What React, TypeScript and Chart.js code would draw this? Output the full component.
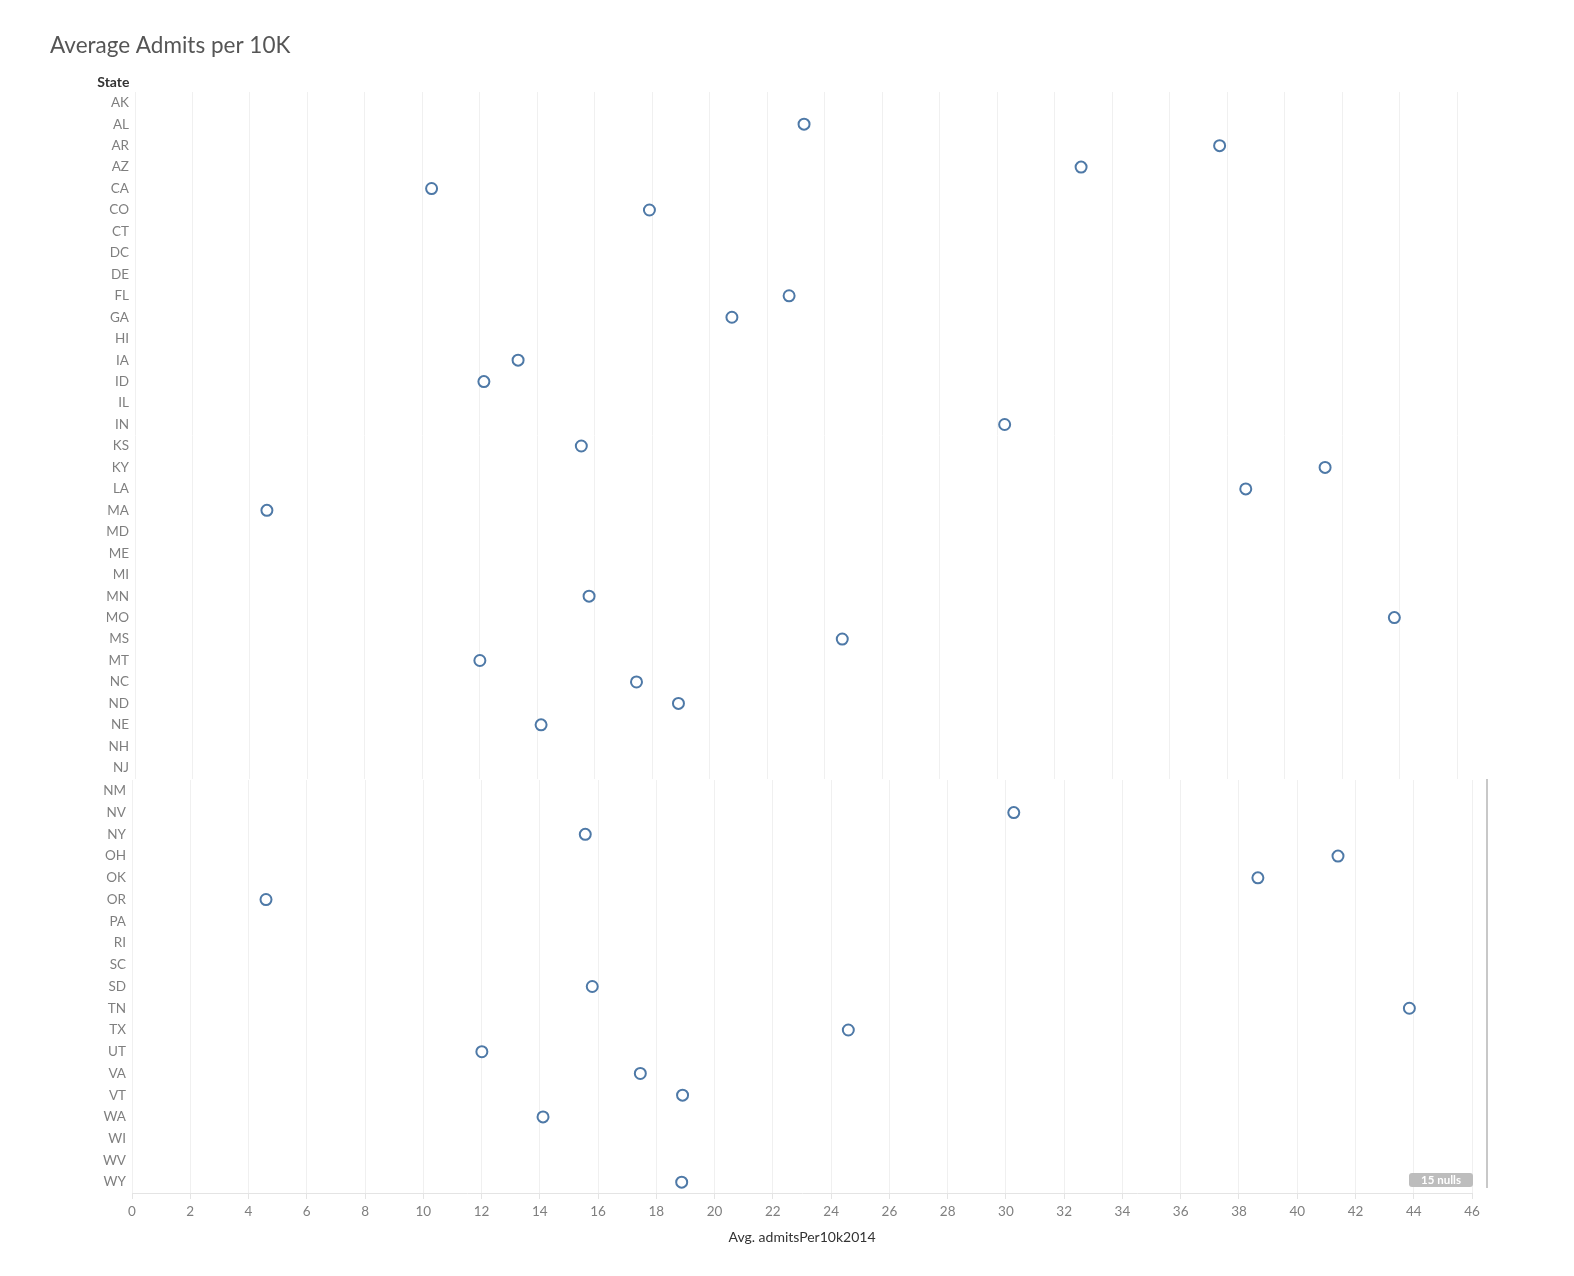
import React, { useEffect, useRef } from "react";
import { Chart, registerables } from "chart.js";

Chart.register(...registerables);

const topStates = ["AK","AL","AR","AZ","CA","CO","CT","DC","DE","FL","GA","HI","IA","ID","IL","IN","KS","KY","LA","MA","MD","ME","MI","MN","MO","MS","MT","NC","ND","NE","NH","NJ"];
const topValues: (number | null)[] = [null,23.28,37.74,32.92,10.32,17.9,null,null,null,22.76,20.77,null,13.33,12.14,null,30.26,15.53,41.41,38.65,4.59,null,null,null,15.8,43.82,24.61,12.0,17.45,18.91,14.13,null,null];

const bottomStates = ["NM","NV","NY","OH","OK","OR","PA","RI","SC","SD","TN","TX","UT","VA","VT","WA","WI","WV","WY"];
const bottomValues: (number | null)[] = [null,30.27,15.56,41.4,38.65,4.6,null,null,null,15.8,43.85,24.59,12.01,17.45,18.9,14.11,null,null,18.87];

const xTickStep = 2;
const xMin = 0;
const xMax = 46;
const chartTitle = "Average Admits per 10K";
const yAxisHeader = "State";
const xAxisTitle = "Avg. admitsPer10k2014";
const nullsBadge = "15 nulls";

const FONT = "Lato, 'Noto Sans', sans-serif";
const POINT = "#4e79a7";
const GRID = "#f0f0f0";
const TICK = "#7f7f7f";

function baseDataset(values: (number | null)[]) {
  return {
    data: values,
    showLine: false,
    pointStyle: "circle" as const,
    pointRadius: 5.5,
    pointHoverRadius: 5.5,
    pointBorderWidth: 2,
    pointBorderColor: POINT,
    pointBackgroundColor: "#ffffff",
    borderColor: POINT,
    backgroundColor: "#ffffff",
  };
}

function fixY(width: number) {
  return (s: any) => {
    s.width = width;
    s.paddingTop = 0;
    s.paddingBottom = 0;
  };
}

export default function App() {
  const topRef = useRef<HTMLCanvasElement>(null);
  const botRef = useRef<HTMLCanvasElement>(null);

  useEffect(() => {
    const headerPlugin = {
      id: "header",
      afterDraw(chart: any) {
        const ctx = chart.ctx;
        ctx.save();
        ctx.fillStyle = "#555555";
        ctx.font = `22.5px ${FONT}`;
        ctx.textAlign = "left";
        ctx.textBaseline = "middle";
        ctx.fillText(chartTitle, 50, 46);
        ctx.fillStyle = "#333333";
        ctx.font = `bold 14px ${FONT}`;
        ctx.textAlign = "right";
        ctx.fillText(yAxisHeader, 129.5, 82);
        ctx.restore();
      },
    };

    const footerPlugin = {
      id: "footer",
      afterDraw(chart: any) {
        const ctx = chart.ctx;
        const a = chart.chartArea;
        ctx.save();
        ctx.strokeStyle = "#c8c8c8";
        ctx.lineWidth = 2;
        ctx.beginPath();
        ctx.moveTo(1487, a.top - 2);
        ctx.lineTo(1487, a.bottom - 5);
        ctx.stroke();
        const bx = 1409, by = a.bottom - 20, bw = 64, bh = 14, r = 3;
        ctx.fillStyle = "#bdbdbd";
        ctx.beginPath();
        ctx.moveTo(bx + r, by);
        ctx.lineTo(bx + bw - r, by);
        ctx.quadraticCurveTo(bx + bw, by, bx + bw, by + r);
        ctx.lineTo(bx + bw, by + bh - r);
        ctx.quadraticCurveTo(bx + bw, by + bh, bx + bw - r, by + bh);
        ctx.lineTo(bx + r, by + bh);
        ctx.quadraticCurveTo(bx, by + bh, bx, by + bh - r);
        ctx.lineTo(bx, by + r);
        ctx.quadraticCurveTo(bx, by, bx + r, by);
        ctx.fill();
        ctx.fillStyle = "#ffffff";
        ctx.font = `bold 11.5px ${FONT}`;
        ctx.textAlign = "center";
        ctx.textBaseline = "middle";
        ctx.fillText(nullsBadge, bx + bw / 2, by + bh / 2 + 0.5);
        ctx.restore();
      },
    };

    const tickFont = { family: FONT, size: 13.5 };

    const topChart = new Chart(topRef.current!, {
      type: "line",
      data: { labels: topStates, datasets: [baseDataset(topValues) as any] },
      options: {
        animation: false,
        responsive: false,
        indexAxis: "y",
        layout: { autoPadding: false, padding: { top: 92, bottom: 0.5, left: 0, right: 117 } },
        plugins: { legend: { display: false }, tooltip: { enabled: false } },
        scales: {
          x: {
            type: "linear",
            min: xMin,
            max: xMax,
            ticks: { display: false, stepSize: xTickStep, padding: 0 },
            grid: { color: GRID, drawTicks: false, lineWidth: 1 },
            border: { display: false },
            afterFit: (s: any) => { s.height = 0; s.paddingLeft = 0; s.paddingRight = 0; },
          },
          y: {
            type: "category",
            offset: true,
            grid: { display: false, drawTicks: false },
            border: { display: false },
            ticks: { autoSkip: false, color: TICK, font: tickFont, padding: 6 },
            afterFit: fixY(135),
          },
        },
      },
      plugins: [headerPlugin],
    });

    const botChart = new Chart(botRef.current!, {
      type: "line",
      data: { labels: bottomStates, datasets: [baseDataset(bottomValues) as any] },
      options: {
        animation: false,
        responsive: false,
        indexAxis: "y",
        layout: { autoPadding: false, padding: { top: 1, bottom: 0, left: 0, right: 102 } },
        plugins: { legend: { display: false }, tooltip: { enabled: false } },
        scales: {
          x: {
            type: "linear",
            min: xMin,
            max: xMax,
            ticks: { stepSize: xTickStep, color: TICK, font: tickFont, padding: 5, maxRotation: 0 },
            grid: { color: GRID, drawTicks: true, tickLength: 6, tickColor: "#e4e4e4", lineWidth: 1 },
            border: { display: true, color: "#e4e4e4" },
            title: {
              display: true,
              text: xAxisTitle,
              color: "#333333",
              font: { family: FONT, size: 14 },
              padding: { top: 0, bottom: 30 },
            },
            afterFit: (s: any) => { s.height = 83; s.paddingLeft = 0; s.paddingRight = 0; },
          },
          y: {
            type: "category",
            offset: true,
            grid: { display: false, drawTicks: false },
            border: { display: false },
            ticks: { autoSkip: false, color: TICK, font: tickFont, padding: 6 },
            afterFit: fixY(132),
          },
        },
      },
      plugins: [footerPlugin],
    });

    return () => {
      topChart.destroy();
      botChart.destroy();
    };
  }, []);

  return (
    <div style={{ position: "absolute", left: 0, top: 0, width: 1574, height: 1276, background: "#ffffff", overflow: "hidden" }}>
      <canvas ref={topRef} width={1574} height={779} style={{ position: "absolute", left: 0, top: 0, width: 1574, height: 779 }} />
      <canvas ref={botRef} width={1574} height={497} style={{ position: "absolute", left: 0, top: 779, width: 1574, height: 497 }} />
    </div>
  );
}
